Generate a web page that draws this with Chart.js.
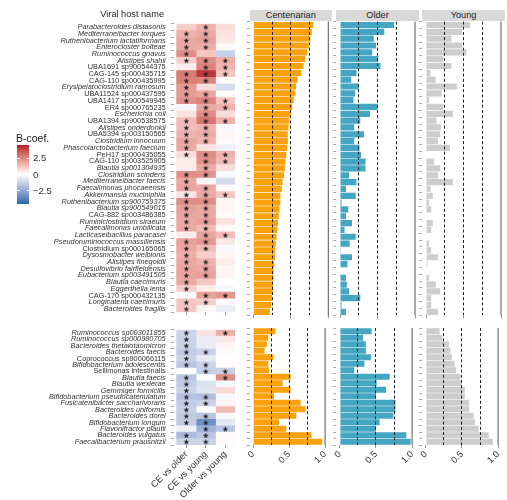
<!DOCTYPE html>
<html><head><meta charset="utf-8">
<script src="https://cdn.jsdelivr.net/npm/chart.js@4.4.1/dist/chart.umd.min.js"></script>
<style>
html,body{margin:0;padding:0;background:#fff;}
#wrap{position:relative;width:507px;height:500px;overflow:hidden;font-family:"Liberation Sans",Arial,sans-serif;color:#333;}
#wrap canvas{position:absolute;}
.strip{position:absolute;top:10px;height:11px;background:#d9d9d9;font-size:9.2px;line-height:11px;text-align:center;color:#222;}
.txt{position:absolute;white-space:nowrap;}
</style></head><body><div id="wrap"></div>
<script>
// ---------------- DATA ----------------
const comparisons = ['CE vs older','CE vs young','Older vs young'];
const groups = ['Centenarian','Older','Young'];

const topHosts = ['Parabacteroides distasonis','Mediterraneibacter torques','Ruthenibacterium lactatiformans','Enterocloster bolteae','Ruminococcus gnavus','Alistipes shahii','UBA1691 sp900544375','CAG-145 sp000435715','CAG-110 sp000435995','Erysipelatoclostridium ramosum','UBA11524 sp000437595','UBA1417 sp900549945','ER4 sp000765235','Escherichia coli','UBA1394 sp900538575','Alistipes onderdonkii','UBA5394 sp003150565','Clostridium innocuum','Phascolarctobacterium faecium','PeH17 sp000435055','CAG-110 sp003525905','Blautia sp001304935','Clostridium scindens','Mediterraneibacter faecis','Faecalimonas phocaeensis','Akkermansia muciniphila','Ruthenibacterium sp900759375','Blautia sp900549015','CAG-882 sp003486385','Ruminiclostridium siraeum','Faecalimonas umbilicata','Lacticaseibacillus paracasei','Pseudoruminococcus massiliensis','Clostridium sp000165065','Dysosmobacter welbionis','Alistipes finegoldii','Desulfovibrio fairfieldensis','Eubacterium sp003491505','Blautia caecimuris','Eggerthella lenta','CAG-170 sp000432135','Longicatena caecimuris','Bacteroides fragilis'];
const bottomHosts = ['Ruminococcus sp003011855','Ruminococcus sp000980705','Bacteroides thetaiotaomicron','Bacteroides faecis','Coprococcus sp900066115','Bifidobacterium adolescentis','Sellimonas intestinalis','Blautia faecis','Blautia wexlerae','Gemmiger formicilis','Bifidobacterium pseudocatenulatum','Fusicatenibacter saccharivorans','Bacteroides uniformis','Bacteroides dorei','Bifidobacterium longum','Flavonifractor plautii','Bacteroides vulgatus','Faecalibacterium prausnitzii'];

// B-coefficients (heatmap)
const topCeVsOlder    = [1.0,1.6,1.8,1.8,2.4,1.0,0.4,2.8,2.7,2.1,2.1,2.3,-0.2,0.6,1.4,1.4,1.6,1.9,1.8,0.7,0.4,0.4,2.4,1.8,1.9,0.6,2.4,2.0,1.9,1.8,1.8,0.4,2.0,1.9,1.7,1.8,1.9,1.9,1.8,1.0,-0.2,1.2,1.2];
const topCeVsYoung    = [1.6,1.8,2.0,1.7,1.2,2.4,2.6,4.1,2.6,0.7,1.9,2.6,1.8,2.4,2.9,1.6,1.7,1.6,0.6,2.4,2.3,1.8,2.3,0.2,1.8,1.8,2.4,1.8,1.8,2.0,1.4,1.9,2.2,1.4,1.0,1.6,1.8,2.0,1.2,0.4,2.0,1.0,0.2];
const topOlderVsYoung = [0.7,0.6,0.5,0.1,-1.3,1.7,1.5,1.2,0.1,-1.0,0.1,1.2,1.6,0.7,1.6,-0.2,0.2,0.1,-0.4,1.6,1.4,0.7,-0.2,-1.0,0.1,1.2,0.2,0.2,0.1,0.6,0.1,1.4,0.5,-0.2,0.2,0.4,0.2,0.2,0.0,-0.2,2.2,0.1,-0.5];
const bottomCeVsOlder    = [-1.2,-1.2,-1.2,-1.4,-1.2,-1.6,0.0,-1.6,-1.4,-1.2,-1.7,-1.4,-1.3,-1.4,-1.4,-0.4,-1.9,-1.2];
const bottomCeVsYoung    = [0.6,-0.5,-0.5,-1.2,-0.6,-1.2,-1.3,0.0,-0.8,-0.7,-1.8,-1.2,0.0,-1.6,-3.2,-2.2,-1.6,-1.2];
const bottomOlderVsYoung = [1.7,0.5,0.2,0.1,0.0,0.1,-1.3,2.4,-0.2,0.8,-0.2,0.2,1.4,-0.2,-0.6,-1.6,0.1,0.1];

// significance stars (1 = star)
const topStarCeVsOlder    = [0,1,1,1,1,1,0,1,1,1,1,1,0,0,1,1,1,1,1,1,0,0,1,1,1,1,1,1,1,1,1,0,1,1,1,1,1,1,1,1,0,1,1];
const topStarCeVsYoung    = [1,1,1,1,0,1,1,1,1,0,1,1,1,1,1,1,1,1,0,1,1,1,1,0,1,1,1,1,1,1,1,1,1,1,0,1,1,1,0,0,1,1,0];
const topStarOlderVsYoung = [0,0,0,0,0,1,1,1,0,0,0,1,1,0,1,0,0,0,0,1,1,0,0,0,0,1,0,0,0,0,0,1,0,0,0,0,0,0,0,0,1,0,0];
const bottomStarCeVsOlder    = [1,1,1,1,1,1,0,1,1,1,1,1,1,1,1,0,1,1];
const bottomStarCeVsYoung    = [0,0,0,1,0,1,1,0,0,0,1,1,0,1,1,1,1,1];
const bottomStarOlderVsYoung = [1,0,0,0,0,0,1,1,0,0,0,0,0,0,0,1,0,0];

// prevalence per group (bars)
const topCentenarian = [0.80,0.78,0.76,0.74,0.72,0.69,0.67,0.64,0.59,0.57,0.56,0.54,0.52,0.50,0.48,0.47,0.46,0.46,0.45,0.44,0.43,0.42,0.41,0.39,0.38,0.36,0.36,0.35,0.34,0.33,0.32,0.31,0.30,0.29,0.29,0.28,0.27,0.27,0.26,0.26,0.25,0.24,0.22];
const topOlder       = [0.72,0.59,0.45,0.48,0.43,0.51,0.54,0.22,0.15,0.25,0.20,0.18,0.50,0.40,0.27,0.19,0.32,0.19,0.26,0.28,0.34,0.34,0.12,0.22,0.08,0.21,0.02,0.11,0.08,0.16,0.06,0.21,0.13,0.01,0.16,0.10,0.00,0.08,0.09,0.12,0.27,0.02,0.08];
const topYoung       = [0.59,0.48,0.34,0.48,0.54,0.23,0.34,0.06,0.13,0.41,0.21,0.04,0.23,0.36,0.14,0.20,0.19,0.16,0.32,0.00,0.11,0.19,0.16,0.36,0.06,0.09,0.04,0.07,0.00,0.09,0.07,0.00,0.04,0.07,0.16,0.02,0.00,0.04,0.13,0.19,0.07,0.07,0.16];
const bottomCentenarian = [0.31,0.21,0.19,0.16,0.28,0.21,0.22,0.52,0.41,0.52,0.29,0.66,0.73,0.60,0.36,0.46,0.81,0.96];
const bottomOlder       = [0.44,0.32,0.36,0.36,0.43,0.34,0.20,0.69,0.51,0.64,0.50,0.77,0.77,0.74,0.55,0.50,0.92,0.98];
const bottomYoung       = [0.19,0.23,0.32,0.34,0.36,0.40,0.42,0.48,0.50,0.54,0.54,0.60,0.60,0.66,0.68,0.73,0.87,0.93];

// tick labels
const xTickValues = [0, 0.5, 1];
const xTickLabels = ['0', '0.5', '1.0'];
const guideValues = [0.25, 0.5, 0.75];
const legendTickValues = [2.5, 0, -2.5];
const legendTickLabels = ['2.5', '0', '\u22122.5'];

// ---------------- STYLE ----------------
const uprightHosts = new Set(['UBA1691 sp900544375','CAG-145 sp000435715','CAG-110 sp000435995','UBA11524 sp000437595','UBA1417 sp900549945','ER4 sp000765235','UBA1394 sp900538575','UBA5394 sp003150565','PeH17 sp000435055','CAG-110 sp003525905','CAG-882 sp003486385','Clostridium sp000165065','CAG-170 sp000432135','Coprococcus sp900066115','Sellimonas intestinalis']);
const groupColors = ['#F9A10E', '#45A6C3', '#CDCDCD'];
const FONT = "'Liberation Sans', Arial, sans-serif";
Chart.defaults.font.family = FONT;
Chart.defaults.color = '#333';

// diverging colour scale (Lab interpolation)
const LIM = 4.5, HIGH = [178,24,43], LOW = [33,102,172], MID = [255,255,255];
function s2l(c){c/=255;return c<=0.04045?c/12.92:Math.pow((c+0.055)/1.055,2.4);}
function l2s(c){const v=c<=0.0031308?12.92*c:1.055*Math.pow(c,1/2.4)-0.055;return Math.round(Math.max(0,Math.min(1,v))*255);}
function rgb2lab(rgb){const [r,g,b]=rgb.map(s2l);const x=(0.4124*r+0.3576*g+0.1805*b)/0.95047,y=0.2126*r+0.7152*g+0.0722*b,z=(0.0193*r+0.1192*g+0.9505*b)/1.08883;const f=t=>t>0.008856?Math.cbrt(t):7.787*t+16/116;const fx=f(x),fy=f(y),fz=f(z);return [116*fy-16,500*(fx-fy),200*(fy-fz)];}
function lab2rgb([L,a,bb]){const fy=(L+16)/116,fx=fy+a/500,fz=fy-bb/200;const inv=t=>t*t*t>0.008856?t*t*t:(t-16/116)/7.787;const x=inv(fx)*0.95047,y=inv(fy),z=inv(fz)*1.08883;return [l2s(3.2406*x-1.5372*y-0.4986*z),l2s(-0.9689*x+1.8758*y+0.0415*z),l2s(0.0557*x-0.2040*y+1.0570*z)];}
const LH=rgb2lab(HIGH), LL=rgb2lab(LOW), LM=rgb2lab(MID);
function colorFor(v){const t=Math.min(1,Math.abs(v)/LIM);const e=v>=0?LH:LL;const c=lab2rgb(LM.map((m,i)=>m+(e[i]-m)*t));return `rgb(${c[0]},${c[1]},${c[2]})`;}

// star point style
function makeStar(){const c=document.createElement('canvas');c.width=7;c.height=7;const g=c.getContext('2d');g.fillStyle='#222';g.beginPath();for(let i=0;i<10;i++){const r=i%2?1.25:3.0;const a=-Math.PI/2+i*Math.PI/5;const x=3.5+r*Math.cos(a),y=3.8+r*Math.sin(a);i?g.lineTo(x,y):g.moveTo(x,y);}g.closePath();g.fill();return c;}
const STAR = makeStar();

// ---------------- LAYOUT ----------------
const wrap = document.getElementById('wrap');
const TOP_AREA = {top:21.6, bottom:315.3};
const BOT_AREA = {top:328, bottom:445};
const HEAT = {left:173.7, right:236.7};
const PANELS = [{left:249.55,right:332.05},{left:336.25,right:418.75},{left:422.25,right:504.75}];

function addCanvas(l,t,w,h){const c=document.createElement('canvas');c.width=w;c.height=h;c.style.left=l+'px';c.style.top=t+'px';c.style.width=w+'px';c.style.height=h+'px';wrap.appendChild(c);return c;}
function addText(txt,css){const d=document.createElement('div');d.className='txt';d.textContent=txt;Object.assign(d.style,css);wrap.appendChild(d);return d;}

const solidLine = {id:'solidLine', afterDatasetsDraw(chart){const {ctx,chartArea,scales}=chart;const x=scales.x.getPixelForValue(1);ctx.save();ctx.strokeStyle='#555';ctx.lineWidth=1;ctx.beginPath();ctx.moveTo(x,chartArea.top);ctx.lineTo(x,chartArea.bottom);ctx.stroke();ctx.restore();}};

function heatChart(hosts, coefs, stars, area, canvasTop, canvasH, xH, showLabels){
  const cv = addCanvas(0, canvasTop, 240, canvasH);
  const yW = HEAT.left;
  const datasets = [];
  coefs.forEach((vals,c)=>datasets.push({type:'bar',data:hosts.map(()=>[c,c+1]),backgroundColor:vals.map(colorFor),grouped:false,barPercentage:1,categoryPercentage:1,borderWidth:0,order:2}));
  stars.forEach((flags,c)=>datasets.push({type:'scatter',data:hosts.map((h,i)=>flags[i]?{x:c+0.5,y:h}:null).filter(Boolean),pointStyle:STAR,pointRadius:3,order:1}));
  new Chart(cv,{type:'bar',data:{labels:hosts,datasets},plugins:[],options:{
    indexAxis:'y',responsive:false,animation:false,events:[],
    layout:{padding:{left:0,top:area.top-canvasTop,right:240-HEAT.right,bottom:canvasTop+canvasH-area.bottom-xH}},
    plugins:{legend:{display:false},tooltip:{enabled:false}},
    scales:{
      x:{type:'linear',min:-0.15,max:3,
        afterBuildTicks:s=>{s.ticks=[0.5,1.5,2.5].map(v=>({value:v}));},
        ticks:{display:showLabels,autoSkip:false,minRotation:45,maxRotation:45,padding:1,font:{size:9.2},color:'#333',callback:(v,i)=>comparisons[i]},
        grid:{drawOnChartArea:false,drawTicks:true,tickLength:3,tickColor:'#999'},border:{display:false},
        afterFit:s=>{s.height=xH;}},
      y:{type:'category',offset:true,
        ticks:{autoSkip:false,padding:5,color:'#333',font:ctx=>({size:7.35,lineHeight:1,style:uprightHosts.has(hosts[ctx.index])?'normal':'italic'})},
        grid:{drawOnChartArea:false,drawTicks:true,tickLength:3,tickColor:'#aaa'},border:{display:false},
        afterFit:s=>{s.width=yW;}}
    }}});
}

function barChart(hosts, values, color, panel, area, canvasTop, canvasH, xH, showLabels){
  const yW = 3, cl = Math.floor(panel.left - 13), cw = Math.ceil(panel.right + 1.5) - cl;
  const cv = addCanvas(cl, canvasTop, cw, canvasH);
  new Chart(cv,{type:'bar',data:{labels:hosts,datasets:[{data:values,backgroundColor:color,barPercentage:0.91,categoryPercentage:1,borderWidth:0}]},plugins:[solidLine],options:{
    indexAxis:'y',responsive:false,animation:false,events:[],
    layout:{padding:{left:panel.left-cl-yW,top:area.top-canvasTop,right:cl+cw-panel.right,bottom:canvasTop+canvasH-area.bottom-xH}},
    plugins:{legend:{display:false},tooltip:{enabled:false}},
    scales:{
      x:{type:'linear',min:-0.05,max:1.05,
        afterBuildTicks:s=>{s.ticks=[0,0.25,0.5,0.75,1].map(v=>({value:v}));},
        ticks:{display:showLabels,autoSkip:false,minRotation:45,maxRotation:45,padding:1,font:{size:9.2},color:'#333',
          callback:v=>{const k=xTickValues.indexOf(v);return k>=0?xTickLabels[k]:'';}},
        grid:{z:1,lineWidth:1,color:ctx=>(ctx.tick&&guideValues.includes(ctx.tick.value))?'#222':'rgba(0,0,0,0)',
          drawTicks:true,tickLength:3,tickColor:ctx=>(ctx.tick&&xTickValues.includes(ctx.tick.value))?'#999':'rgba(0,0,0,0)'},
        border:{display:false,dash:[3,2.2]},
        afterFit:s=>{s.height=xH;}},
      y:{type:'category',offset:true,ticks:{display:false},
        grid:{drawOnChartArea:false,drawTicks:true,tickLength:3,tickColor:'#aaa'},border:{display:false},
        afterFit:s=>{s.width=yW;}}
    }}});
}

// heatmaps
heatChart(topHosts,[topCeVsOlder,topCeVsYoung,topOlderVsYoung],[topStarCeVsOlder,topStarCeVsYoung,topStarOlderVsYoung],TOP_AREA,15,306,4.7,false);
heatChart(bottomHosts,[bottomCeVsOlder,bottomCeVsYoung,bottomOlderVsYoung],[bottomStarCeVsOlder,bottomStarCeVsYoung,bottomStarOlderVsYoung],BOT_AREA,321,179,55,true);

// bars
const topVals=[topCentenarian,topOlder,topYoung], botVals=[bottomCentenarian,bottomOlder,bottomYoung];
PANELS.forEach((p,i)=>{
  barChart(topHosts,topVals[i],groupColors[i],p,TOP_AREA,15,306,4.7,false);
  barChart(bottomHosts,botVals[i],groupColors[i],p,BOT_AREA,321,179,55,true);
  const s=document.createElement('div');s.className='strip';s.textContent=groups[i];s.style.left=p.left+'px';s.style.width=(p.right-p.left)+'px';wrap.appendChild(s);
});

// titles & legend
addText('Viral host name',{left:'0px',width:'164px',textAlign:'right',top:'9px',fontSize:'9.2px',color:'#222'});
addText('B-coef.',{left:'16px',top:'132px',fontSize:'10.5px',color:'#222'});
const LEG={top:145,h:59,left:17.3,w:12};
const bar=document.createElement('div');
const stops=[];for(let k=0;k<=20;k++){const v=LIM-k*(2*LIM/20);stops.push(colorFor(v)+' '+(k*5)+'%');}
Object.assign(bar.style,{position:'absolute',left:LEG.left+'px',top:LEG.top+'px',width:LEG.w+'px',height:LEG.h+'px',background:'linear-gradient(to bottom,'+stops.join(',')+')'});
wrap.appendChild(bar);
legendTickValues.forEach((v,i)=>{
  const y=LEG.top+LEG.h/2-(v/LIM)*(LEG.h/2);
  const t=document.createElement('div');Object.assign(t.style,{position:'absolute',left:LEG.left+'px',top:(y-0.5)+'px',width:'2.5px',height:'1px',background:'#fff'});wrap.appendChild(t);
  const t2=document.createElement('div');Object.assign(t2.style,{position:'absolute',left:(LEG.left+LEG.w-2.5)+'px',top:(y-0.5)+'px',width:'2.5px',height:'1px',background:'#fff'});wrap.appendChild(t2);
  addText(legendTickLabels[i],{left:'33px',top:(y-6)+'px',fontSize:'9.5px',lineHeight:'12px',color:'#333'});
});
</script></body></html>
